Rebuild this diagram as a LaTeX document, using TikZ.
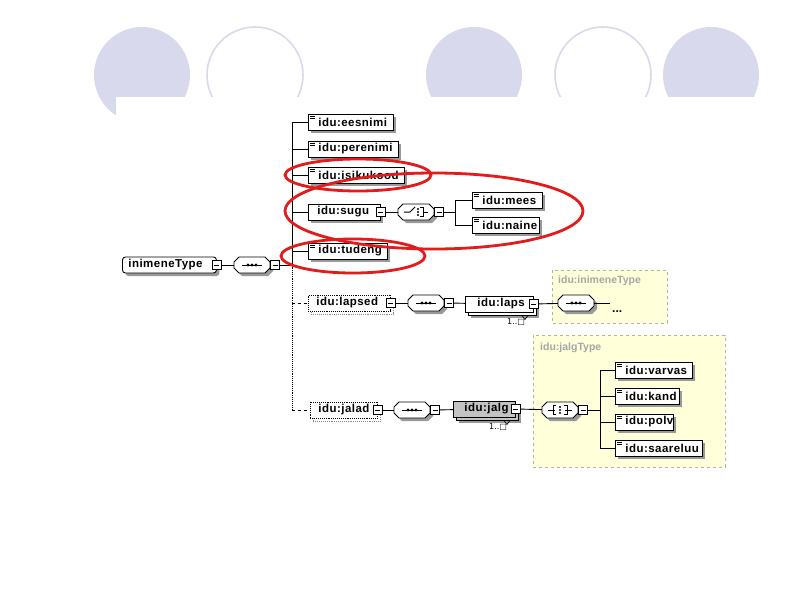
\documentclass[tikz,border=0pt]{standalone}
\usepackage{fontspec}
\setmainfont{Liberation Sans}
\newfontfamily\elfont[LetterSpace=4]{Liberation Sans}
\newfontfamily\dvfont{DejaVu Sans}
\usetikzlibrary{shadows}
\definecolor{lav}{HTML}{D9D9ED}
\definecolor{redmark}{HTML}{E31B1B}
\definecolor{yel}{HTML}{FFFFDA}
\definecolor{yelborder}{HTML}{B4B4A0}
\definecolor{jalggray}{HTML}{C3C3C3}
\newcommand\mybt[3]{\makebox[#1pt][l]{\hspace*{#2pt}#3}}
\newcommand\compshape[1]{%
  \begin{scope}[shift={(#1.center)}]
    \fill[black!40] (-15,-5) -- (-10,-5) -- (16,-5) -- (21,0) -- (21,6) -- (16,11) -- (-10,11) -- (-15,6) -- cycle;
    \draw[line width=0.8pt, fill=white] (-18,-3) -- (-13,-8) -- (13,-8) -- (18,-3) -- (18,3) -- (13,8) -- (-13,8) -- (-18,3) -- cycle;
  \end{scope}}
\newcommand\seqicon[1]{%
  \draw[line width=1pt] ([xshift=-10pt]#1.center) -- ([xshift=10pt]#1.center);
  \foreach \d in {-4,0,4} {\fill ([xshift=\d pt]#1.center) circle[radius=1.6pt];}}
\newcommand\choiceicon[1]{%
  \begin{scope}[shift={(#1.center)}]
    \draw[line width=1pt] (-12,0) -- (-6,0) -- (-1,-5);
    \foreach \d in {-3,0,3} {\fill (2,\d) circle[radius=1.1pt];}
    \draw[line width=1pt] (4,-4.5) -- (7,-4.5) -- (7,4.5) -- (4,4.5) (7,0) -- (12,0);
  \end{scope}}
\newcommand\allicon[1]{%
  \begin{scope}[shift={(#1.center)}]
    \draw[line width=1pt] (-12,0) -- (-5,0) (-4,-4.5) -- (-7,-4.5) -- (-7,4.5) -- (-4,4.5);
    \foreach \d in {-3,0,3} {\fill (0,\d) circle[radius=1.1pt];}
    \draw[line width=1pt] (5,0) -- (12,0) (4,-4.5) -- (7,-4.5) -- (7,4.5) -- (4,4.5);
  \end{scope}}
\tikzset{
  conn/.style={line width=0.9pt},
  elns/.style={draw, line width=0.9pt, fill=white, anchor=west, minimum height=16pt,
    inner sep=0pt, font=\elfont\bfseries\fontsize{11.5}{13}\selectfont},
  el/.style={elns, drop shadow={shadow xshift=3pt, shadow yshift=-3pt, fill=black!40, opacity=1}},
  simple/.style={path picture={\draw[line width=0.8pt]
      ([shift={(1.5pt,-2pt)}]path picture bounding box.north west) -- ++(5pt,0pt)
      ([shift={(1.5pt,-4.2pt)}]path picture bounding box.north west) -- ++(5pt,0pt);}},
  optbox/.style={elns, densely dotted,
    drop shadow={shadow xshift=3pt, shadow yshift=-3pt, fill=white, draw=black!45, densely dotted, opacity=1}},
  minusbox/.style={draw, line width=0.8pt, fill=white, minimum size=9pt, inner sep=0pt,
    path picture={\draw[line width=0.8pt] ([xshift=2pt]path picture bounding box.west) -- ([xshift=-2pt]path picture bounding box.east);}},
  comp/.style={rectangle, draw=none, minimum width=36pt, minimum height=16pt, inner sep=0pt},
  redring/.style={draw=redmark, line width=2.8pt},
  typebox/.style={draw=yelborder, dashed, fill=yel, line width=0.9pt},
  typetitle/.style={font=\bfseries\fontsize{10.5}{12}\selectfont, text=black!35, anchor=west, inner sep=0pt},
  occ/.style={font=\dvfont\fontsize{8}{9}\selectfont, inner sep=0pt, anchor=west},
}
\begin{document}
\begin{tikzpicture}[x=1pt,y=-1pt]
\useasboundingbox (0,0) rectangle (800,600);
% background slide decoration
\fill[lav] (142,75) ellipse[x radius=48, y radius=48];
\draw[lav, line width=1.6pt] (255,75) ellipse[x radius=48, y radius=48];
\fill[lav] (474,75) ellipse[x radius=48, y radius=48];
\draw[lav, line width=1.6pt] (603,75) ellipse[x radius=48, y radius=48];
\fill[lav] (711,75) ellipse[x radius=48, y radius=48];
\fill[white] (116,97) rectangle (800,600);

% type boxes
\draw[typebox] (552,270) rectangle (667,323);
\node[typetitle] (t1) at (558,281) {idu:inimeneType};
\draw[typebox] (533,335) rectangle (725,467);
\node[typetitle] (t2) at (540,348) {idu:jalgType};

% root
\node[el, rounded corners=3pt] (root) at (122,265) {\mybt{94}{6}{inimeneType}};
\node[minusbox] (rootm) at (root.east) {};
\node[comp] (seq1) at (252,265) {};
\compshape{seq1}\seqicon{seq1}
\node[minusbox, anchor=west] (seq1m) at (seq1.east) {};
\coordinate (vtop) at (292,122);
\coordinate (vmid) at (292,268);
\coordinate (vbot) at (292,410);
\draw[conn] (rootm) -- (seq1);
\draw[conn] (seq1m.east) -- (seq1m.east -| vtop);
\draw[conn] (vtop) -- (vmid);
\draw[conn, densely dotted] (vmid) -- (vbot);

% children
\node[el, simple] (eesnimi) at (308,122) {\mybt{85}{10}{idu:eesnimi}};
\node[el, simple] (perenimi) at (308,149) {\mybt{90}{10}{idu:perenimi}};
\node[el, simple] (isikukood) at (308,175) {\mybt{96}{10}{idu:isikukood}};
\node[el] (sugu) at (308,212) {\mybt{72}{9}{idu:sugu}};
\node[el, simple] (tudeng) at (308,251) {\mybt{79}{10}{idu:tudeng}};
\node[optbox] (lapsed) at (308,303) {\mybt{82}{8}{idu:lapsed}};
\node[optbox] (jalad) at (310,410) {\mybt{67}{8}{idu:jalad}};
\foreach \n in {eesnimi,perenimi,isikukood,sugu,tudeng}
  {\draw[conn] (\n.west -| vtop) -- (\n.west);}
\draw[conn, dashed] (lapsed.west -| vtop) -- (lapsed.west);
\draw[conn, dashed] (vbot) -- (jalad.west);

% sugu choice
\node[minusbox] (sugum) at (sugu.east) {};
\node[comp] (ch1) at (416,212) {};
\compshape{ch1}\choiceicon{ch1}
\node[minusbox, anchor=west] (ch1m) at (ch1.east) {};
\coordinate (sj) at (455,212);
\node[el, simple] (mees) at (472,200) {\mybt{70}{10}{idu:mees}};
\node[el, simple] (naine) at (472,225) {\mybt{67}{10}{idu:naine}};
\draw[conn] (sugum) -- (ch1);
\draw[conn] (ch1m) -- (sj);
\draw[conn] (sj |- mees.west) -- (sj |- naine.west);
\draw[conn] (sj |- mees.west) -- (mees.west);
\draw[conn] (sj |- naine.west) -- (naine.west);

% lapsed
\node[minusbox] (lapsedm) at (lapsed.east) {};
\node[comp] (seq2) at (426,303) {};
\compshape{seq2}\seqicon{seq2}
\node[minusbox, anchor=west] (seq2m) at (seq2.east) {};
\node[el] (lapsB) at (468,307) {\mybt{68}{0}{}};
\node[elns] (laps) at (465,304) {\mybt{68}{12}{idu:laps}};
\node[minusbox] (lapsm) at (laps.east) {};
\draw[line width=0.7pt] ([xshift=-15pt]lapsB.south east) -- ++(3pt,-4pt) -- ++(3pt,4pt);
\node[occ] (lapsocc) at (507,322) {1..□};
\draw[conn] (lapsedm) -- (seq2);
\draw[conn] (seq2m) -- (laps);
\node[comp] (seq3) at (576,303) {};
\compshape{seq3}\seqicon{seq3}
\coordinate (lapsend) at (610,303);
\draw[conn] (lapsm) -- (seq3);
\draw[conn] (seq3.east) -- (lapsend);
\node[anchor=base west, inner sep=0pt, font=\bfseries\fontsize{12}{14}\selectfont] (more) at (612,312) {...};

% jalad
\node[minusbox] (jaladm) at (jalad.east) {};
\node[comp] (seq4) at (412,410) {};
\compshape{seq4}\seqicon{seq4}
\node[minusbox, anchor=west] (seq4m) at (seq4.east) {};
\node[el, fill=jalggray] (jalgB) at (456,412) {\mybt{62}{0}{}};
\node[elns, fill=jalggray] (jalg) at (453,409) {\mybt{62}{11}{idu:jalg}};
\node[minusbox] (jalgm) at (jalg.east) {};
\draw[line width=0.7pt] ([xshift=-15pt]jalgB.south east) -- ++(3pt,-4pt) -- ++(3pt,4pt);
\node[occ] (jalgocc) at (489,427) {1..□};
\draw[conn] (jaladm) -- (seq4);
\draw[conn] (seq4m) -- (jalg);
\node[comp] (all1) at (560,410) {};
\compshape{all1}\allicon{all1}
\node[minusbox, anchor=west] (all1m) at (all1.east) {};
\draw[conn] (jalgm) -- (all1);
\coordinate (jj) at (600,410);
\draw[conn] (all1m) -- (jj);
\node[el, simple] (varvas) at (615,370) {\mybt{77}{10}{idu:varvas}};
\node[el, simple] (kand) at (615,396) {\mybt{64}{10}{idu:kand}};
\node[el, simple] (polv) at (615,422) {\mybt{58}{10}{idu:polv}};
\node[el, simple] (saareluu) at (615,448) {\mybt{87}{10}{idu:saareluu}};
\draw[conn] (jj |- varvas.west) -- (jj |- saareluu.west);
\foreach \n in {varvas,kand,polv,saareluu}
  {\draw[conn] (jj |- \n.west) -- (\n.west);}

% red annotations
\draw[redring] (358,175) ellipse[x radius=73, y radius=16];
\draw[redring] (434,211) ellipse[x radius=149, y radius=38];
\draw[redring] (353,256) ellipse[x radius=72, y radius=17];
\end{tikzpicture}
\end{document}
